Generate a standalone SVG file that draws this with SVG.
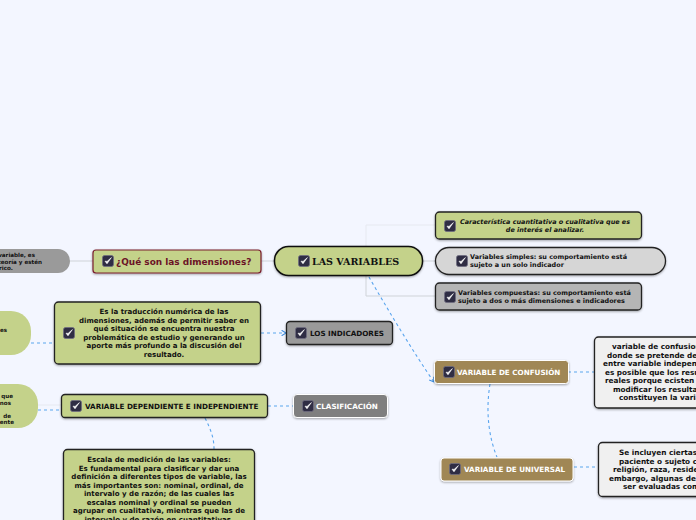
<svg xmlns="http://www.w3.org/2000/svg" width="696" height="520" viewBox="0 0 696 520">
<style>
text{font-family:"DejaVu Sans",Verdana,sans-serif;font-weight:700;fill:#111;font-size:7.05px}
.c{text-anchor:middle}
.e{text-anchor:end;font-size:5.6px}
.h{font-size:7.2px}
.n{font-size:6.45px}
.r{font-size:7.3px}
.box{stroke:#222;stroke-width:1.3}
.solid{fill:none;stroke:#cfd3d8;stroke-width:1}
.faint{fill:none;stroke:#e6e9f0;stroke-width:1}
.dash{fill:none;stroke:#5aa5ee;stroke-width:1.1;stroke-dasharray:3 3}
.sh{filter:url(#s)}
</style>
<defs>
<filter id="s" x="-10%" y="-20%" width="120%" height="150%"><feDropShadow dx="0" dy="1" stdDeviation="0.8" flood-color="#000" flood-opacity="0.35"/></filter>
<marker id="a" markerWidth="6" markerHeight="6" refX="5" refY="3" orient="auto"><path d="M1 .5L5 3L1 5.500" fill="none" stroke="#3f8fe0" stroke-width="1"/></marker>
<g id="chk"><rect x=".5" y=".5" width="11" height="11" rx="2" fill="#2f2d44" stroke="#6e6c80" stroke-width=".8"/><path d="M3 6.200L5 8.800L9.400 2.600L5.100 6.400Z" fill="#fff" stroke="#fff" stroke-width=".6"/></g>
</defs>
<rect width="696" height="520" fill="#f3f6ff"/>
<g id="connectors">
<path class="solid" d="M70 261H93"/>
<path class="solid" d="M261 261H274"/>
<path class="faint" d="M366 246V225H435"/>
<path class="solid" d="M422 261H435"/>
<path class="solid" d="M366 276V296H435"/>
<path class="dash" d="M261 333H286" marker-end="url(#a)"/>
<path class="dash" d="M31 343H54"/>
<path class="dash" d="M369 277C385 305 415 355 434 382" marker-end="url(#a)"/>
<path class="dash" d="M568 372H594"/>
<path class="dash" d="M490 384C485 415 490 440 497 457"/>
<path class="dash" d="M574 467H598"/>
<path class="dash" d="M268 406H293"/>
<path class="dash" d="M38 410H61"/>
<path class="faint" d="M38 405H61"/>
<path class="dash" d="M205 418C211 430 214 438 214 449"/>
</g>
<g id="n-dim-left"><rect x="-60" y="249" width="130" height="24" rx="12" fill="#9a9a9a"/>
<text class="e" x="35" y="257">variable, es</text><text class="e" x="42" y="263.500">teoría y estén</text><text class="e" x="13" y="270">rico.</text></g>
<g id="n-dim"><rect class="sh" x="93" y="250" width="168" height="23" rx="3" fill="#c4d28a" stroke="#7a1f2e" stroke-width="1.2"/><use href="#chk" x="102" y="255"/><text x="116" y="265" style="font-size:8.95px;fill:#6b1226">¿Qué son las dimensiones?</text></g>
<g id="n-main"><rect class="sh" x="274.500" y="246.500" width="148" height="29" rx="14" fill="#c4d28a" stroke="#111" stroke-width="1.5"/><use href="#chk" x="298" y="255"/><text x="312" y="265" style="font-family:'DejaVu Serif',serif;font-size:9.55px">LAS VARIABLES</text></g>
<g id="n-car"><rect class="sh box" x="435.500" y="212" width="206" height="27" rx="4" fill="#c4d28a"/><use href="#chk" x="444" y="220"/><text class="c n" x="545" y="224" style="font-style:italic">Característica cuantitativa o cualitativa que es</text><text class="c n" x="545" y="232" style="font-style:italic">de interés el analizar.</text></g>
<g id="n-sim"><rect class="sh box" x="435.500" y="247.500" width="230" height="27" rx="13.500" fill="#d6d6d6"/><use href="#chk" x="456" y="255"/><text class="n" x="470" y="259">Variables simples: su comportamiento está</text><text class="n" x="470" y="267">sujeto a un solo indicador</text></g>
<g id="n-com"><rect class="sh box" x="435.500" y="283" width="206" height="27" rx="4" fill="#b5b5b5"/><use href="#chk" x="444" y="291"/><text class="n" x="458" y="295">Variables compuestas: su comportamiento está</text><text class="n" x="458" y="303">sujeto a dos o más dimensiones e indicadores</text></g>
<g id="n-ind-left"><rect x="-60" y="311" width="91" height="44" rx="20" fill="#c4d28a"/><text class="e" x="7" y="332">es</text></g>
<g id="n-trad"><rect class="sh box" x="54.500" y="302" width="206" height="62" rx="4" fill="#c4d28a"/><use href="#chk" x="63" y="327"/><text class="c" x="164" y="314">Es la traducción numérica de las</text><text class="c" x="164" y="323">dimensiones, además de permitir saber en</text><text class="c" x="164" y="331">qué situación se encuentra nuestra</text><text class="c" x="164" y="340">problemática de estudio y generando un</text><text class="c" x="164" y="348">aporte más profundo a la discusión del</text><text class="c" x="164" y="357">resultado.</text></g>
<g id="n-los"><rect class="sh box" x="286.500" y="321.500" width="106" height="23" rx="3.500" fill="#9a9a9a"/><use href="#chk" x="295" y="327"/><text class="h" x="310" y="336">LOS INDICADORES</text></g>
<g id="n-cla-left"><rect x="-60" y="384" width="98" height="44" rx="20" fill="#c4d28a"/><text class="e" x="13" y="398">que</text><text class="e" x="11" y="405">nos</text><text class="e" x="11" y="418">de</text><text class="e" x="14" y="424">ente</text></g>
<g id="n-vdi"><rect class="sh box" x="61.500" y="394.500" width="206" height="23" rx="3.500" fill="#c4d28a"/><use href="#chk" x="70" y="400"/><text class="h" x="85" y="409">VARIABLE DEPENDIENTE E INDEPENDIENTE</text></g>
<g id="n-cla"><rect class="sh" x="293.500" y="394.500" width="94" height="23" rx="3.500" fill="#7f7f7f" stroke="#fff"/><use href="#chk" x="302" y="400"/><text class="h" x="316" y="409" style="fill:#fff">CLASIFICACIÓN</text></g>
<g id="n-esc"><rect class="sh box" x="63.500" y="449.500" width="191" height="90" rx="4" fill="#c4d28a"/><text class="c" x="159" y="462">Escala de medición de las variables:</text><text class="c" x="159" y="471">Es fundamental para clasificar y dar una</text><text class="c" x="159" y="479">definición a diferentes tipos de variable, las</text><text class="c" x="159" y="488">más importantes son: nominal, ordinal, de</text><text class="c" x="159" y="496">intervalo y de razón; de las cuales las</text><text class="c" x="159" y="505">escalas nominal y ordinal se pueden</text><text class="c" x="159" y="513">agrupar en cualitativa, mientras que las de</text><text class="c" x="159" y="522">intervalo y de razón en cuantitativas.</text></g>
<g id="n-vco"><rect class="sh" x="434.500" y="360.500" width="134" height="23" rx="3" fill="#a08755" stroke="#fff"/><use href="#chk" x="443" y="366"/><text class="h" x="457" y="375" style="fill:#fff">VARIABLE DE CONFUSIÓN</text></g>
<g id="n-cnf"><rect class="sh box" x="594.500" y="337" width="130" height="71" rx="4" fill="#f0f0f0"/><text class="r" x="612" y="349">variable de confusion</text><text class="r" x="607" y="358">donde se pretende det</text><text class="r" x="603" y="366">entre variable independ</text><text class="r" x="605" y="375">es posible que los resu</text><text class="r" x="605" y="383">reales porque ecisten fa</text><text class="r" x="613" y="392">modificar los resultad</text><text class="r" x="619" y="400">constituyen la varia</text></g>
<g id="n-vun"><rect class="sh" x="441" y="458" width="132" height="23" rx="3" fill="#a08755" stroke="#fff"/><use href="#chk" x="449" y="463"/><text class="h" x="464" y="472" style="fill:#fff">VARIABLE DE UNIVERSAL</text></g>
<g id="n-uni"><rect class="sh box" x="598.500" y="442.500" width="130" height="54" rx="4" fill="#f0f0f0"/><text class="r" x="619" y="455">Se incluyen ciertas</text><text class="r" x="619" y="464">paciente o sujeto co</text><text class="r" x="613" y="472">religión, raza, residen</text><text class="r" x="609" y="481">embargo, algunas de e</text><text class="r" x="623" y="489">ser evaluadas com</text></g>
</svg>
